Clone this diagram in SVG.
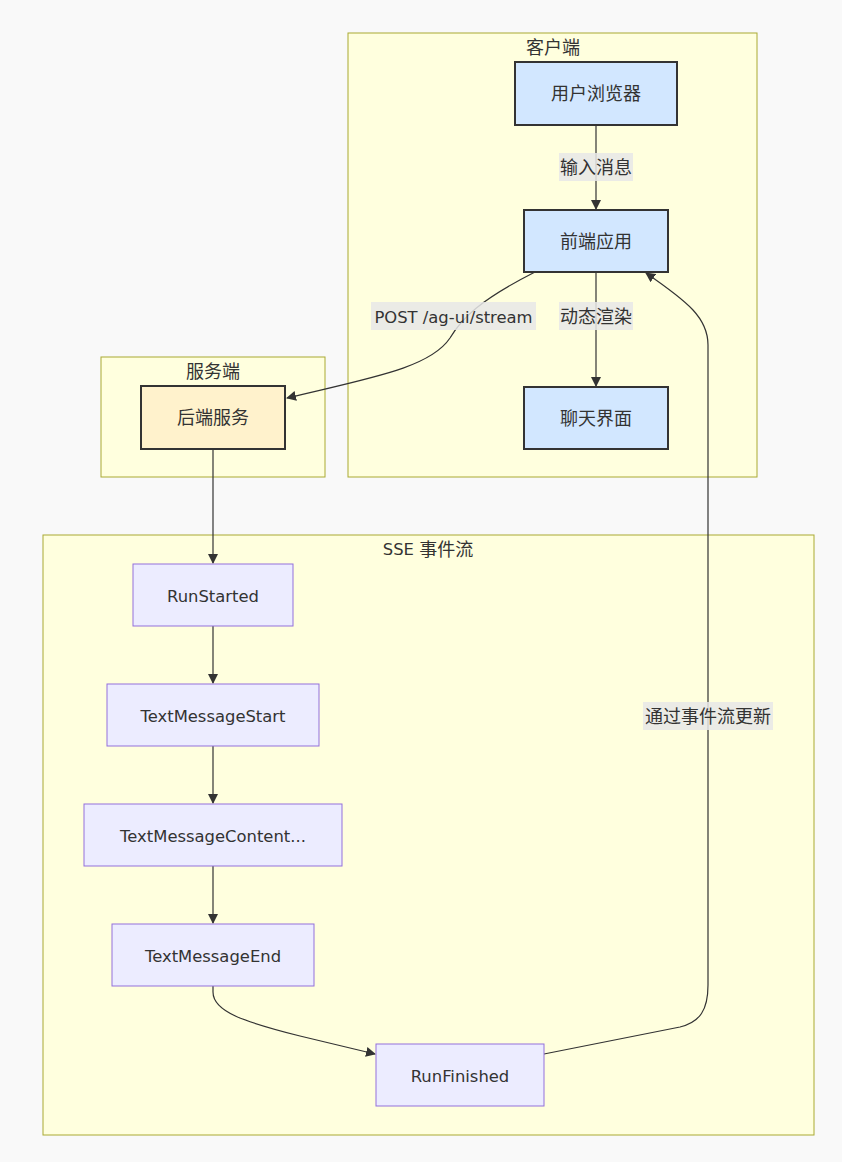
<svg xmlns="http://www.w3.org/2000/svg" width="842" height="1162" viewBox="0 0 842 1162">
<defs>
<marker id="arr" viewBox="0 0 10 10" refX="9" refY="5" markerWidth="10" markerHeight="10" markerUnits="userSpaceOnUse" orient="auto">
<path d="M0,0 L10,5 L0,10 z" fill="#333"/>
</marker>
<style>
.cl{fill:#ffffde;stroke:#aaaa33;stroke-width:1}
.blue{fill:#d2e7ff;stroke:#333;stroke-width:2}
.orange{fill:#fff2cc;stroke:#333;stroke-width:2}
.ev{fill:#ececff;stroke:#9370db;stroke-width:1}
.t{font-family:"DejaVu Sans","Noto Sans CJK SC",sans-serif;fill:#333;text-anchor:middle;dominant-baseline:central}
.lat{font-size:16.4px}
.cjk{font-size:18px}
.e{fill:none;stroke:#333;stroke-width:1.2;marker-end:url(#arr)}
.lb{fill:#e8e8e8;opacity:0.85}
</style>
</defs>
<rect x="0" y="0" width="842" height="1162" fill="#f9f9f9"/>
<g id="cluster-client">
<rect class="cl" x="348" y="33" width="409" height="444"/>
<text class="t cjk" x="553" y="47">客户端</text>
</g>
<g id="cluster-server">
<rect class="cl" x="101" y="357" width="224" height="120"/>
<text class="t cjk" x="213" y="371">服务端</text>
</g>
<g id="cluster-sse">
<rect class="cl" x="43" y="535" width="771" height="600"/>
<text class="t" x="428" y="549"><tspan class="lat">SSE </tspan><tspan class="cjk">事件流</tspan></text>
</g>
<g id="connectors">
<path class="e" d="M596,125 L596,209"/>
<path class="e" d="M596,272 L596,386"/>
<path class="e" d="M535,272 C480,300 462,318 450,338 C430,368 370,378 287,398"/>
<path class="e" d="M213,449 L213,563"/>
<path class="e" d="M213,626 L213,683"/>
<path class="e" d="M213,746 L213,803"/>
<path class="e" d="M213,866 L213,923"/>
<path class="e" d="M213,986 L213,992 C213,1012 245,1022 300,1036 L375,1054"/>
<path class="e" d="M544,1054 L680,1027 C700,1022 708,1010 708,985 L708,345 C708,318 688,302 646,273"/>
<rect class="lb" x="559" y="153" width="74" height="28"/>
<text class="t cjk" x="596" y="167">输入消息</text>
<rect class="lb" x="559" y="302" width="74" height="28"/>
<text class="t cjk" x="596" y="316">动态渲染</text>
<rect class="lb" x="371" y="302" width="165" height="28"/>
<text class="t lat" x="453.5" y="317">POST /ag-ui/stream</text>
<rect class="lb" x="643" y="702" width="130" height="28"/>
<text class="t cjk" x="708" y="716">通过事件流更新</text>
</g>
<g id="node-browser">
<rect class="blue" x="515" y="62" width="162" height="63"/>
<text class="t cjk" x="596" y="93.5">用户浏览器</text>
</g>
<g id="node-frontend">
<rect class="blue" x="524" y="210" width="144" height="62"/>
<text class="t cjk" x="596" y="241">前端应用</text>
</g>
<g id="node-chat">
<rect class="blue" x="524" y="387" width="144" height="62"/>
<text class="t cjk" x="596" y="418">聊天界面</text>
</g>
<g id="node-backend">
<rect class="orange" x="141" y="386" width="144" height="63"/>
<text class="t cjk" x="213" y="417.5">后端服务</text>
</g>
<g id="node-runstarted">
<rect class="ev" x="133" y="564" width="160" height="62"/>
<text class="t lat" x="213" y="596">RunStarted</text>
</g>
<g id="node-tms">
<rect class="ev" x="107" y="684" width="212" height="62"/>
<text class="t lat" x="213" y="716">TextMessageStart</text>
</g>
<g id="node-tmc">
<rect class="ev" x="84" y="804" width="258" height="62"/>
<text class="t lat" x="213" y="836">TextMessageContent...</text>
</g>
<g id="node-tme">
<rect class="ev" x="112" y="924" width="202" height="62"/>
<text class="t lat" x="213" y="956">TextMessageEnd</text>
</g>
<g id="node-runfinished">
<rect class="ev" x="376" y="1044" width="168" height="62"/>
<text class="t lat" x="460" y="1076">RunFinished</text>
</g>
</svg>
